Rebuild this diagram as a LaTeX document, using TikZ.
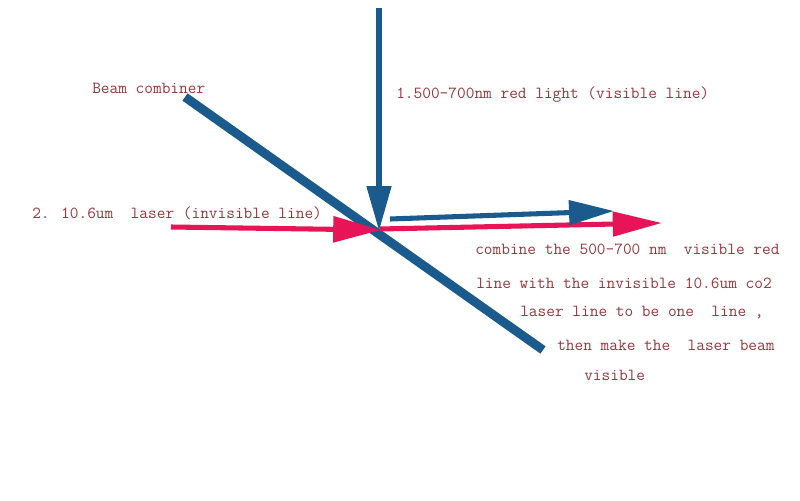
\documentclass[tikz,border=0pt]{standalone}
\usepackage{fontspec}
\usetikzlibrary{arrows.meta}
\definecolor{beamblue}{RGB}{27,90,140}
\definecolor{laserred}{RGB}{232,20,88}
\definecolor{txtred}{RGB}{150,55,60}
\tikzset{
  lbl/.style={text=txtred,font=\ttfamily\fontsize{12}{14}\selectfont,inner sep=0pt,anchor=west},
  beam/.style={line width=3.6pt},
}
\begin{document}
\begin{tikzpicture}[x=0.025cm,y=-0.025cm]
        \useasboundingbox (0,0) rectangle (800,500);
        \coordinate (P) at (185,97);
        \coordinate (Q) at (543,350);
        \coordinate (R) at (379,8);
        \coordinate (S) at (379,231);
        \coordinate (L) at (171,227);
        \coordinate (M) at (381,230);
        \coordinate (N) at (380,229);
        \coordinate (O) at (662,223);
        \coordinate (U) at (390,219);
        \coordinate (V) at (614,211);
        
        % combiner and beams
        \draw[beamblue,line width=6.4pt] (P) -- (Q);
        \draw[beam,laserred,-{Triangle[length=34pt,width=18pt]}] (L) -- (M);
        \draw[beam,laserred,-{Triangle[length=35pt,width=17pt]}] (N) -- (O);
        \draw[beam,beamblue,-{Triangle[length=32pt,width=17pt]}] (U) -- (V);
        \draw[beam,beamblue,-{Triangle[length=32pt,width=17pt]}] (R) -- (S);
        
        \node[lbl] (A) at (92,88) {Beam combiner};
        \node[lbl] (B) at (396,95) {1.500-700nm red light (visible line)};
        \node[lbl] (C) at (32,213) {2. 10.6um~~laser (invisible line)};
        \node[lbl] (D) at (475,249) {combine the 500-700 nm~~visible red};
        \node[lbl] (E) at (476,283) {line with the invisible 10.6um co2};
        \node[lbl] (F) at (520,313) {laser line to be one~~line ,};
        \node[lbl] (G) at (557,345) {then make the~~laser beam};
        \node[lbl] (H) at (584,375) {visible};
      \end{tikzpicture}
\end{document}
